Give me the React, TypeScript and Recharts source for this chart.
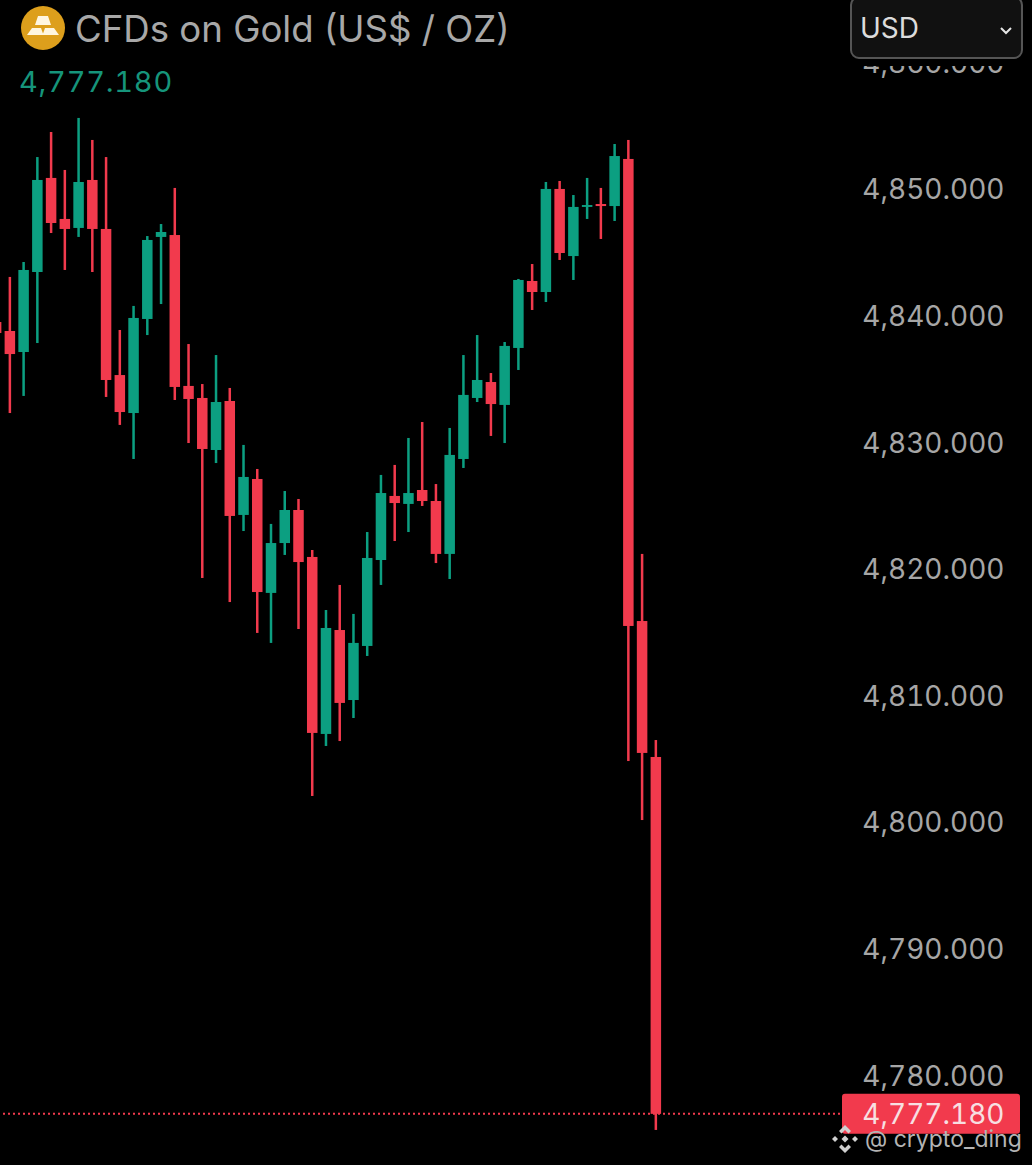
import { Bar, ComposedChart, ReferenceLine, XAxis, YAxis } from "recharts";

const FONT = "Inter, 'Noto Sans', sans-serif";
const RED = "#f23a4d";
const GREEN = "#0c9f81";
const LAST_PRICE = 4777.18;

const yTicks = [4780, 4790, 4800, 4810, 4820, 4830, 4840, 4850, 4860];

// one entry per candle, left to right
const highs = [
  4840.05, 4843.29, 4844.47, 4852.76, 4854.74, 4851.74, 4855.85, 4854.11, 4852.76, 4839.1,
  4841.0, 4846.52, 4847.47, 4850.32, 4837.99, 4834.83, 4837.12, 4834.52, 4830.02, 4828.12,
  4823.78, 4826.38, 4825.75, 4821.72, 4816.98, 4818.96, 4816.67, 4823.14, 4827.65, 4828.44,
  4830.57, 4831.83, 4826.93, 4831.36, 4837.12, 4838.7, 4835.7, 4838.15, 4843.13, 4844.31,
  4850.79, 4850.87, 4849.76, 4851.11, 4850.32, 4853.79, 4854.11, 4821.41, 4806.71,
];
const opens = [
  4839.73, 4839.02, 4837.36, 4843.68, 4851.11, 4847.87, 4847.16, 4850.95, 4847.08, 4835.54,
  4832.54, 4839.97, 4846.45, 4846.6, 4834.68, 4833.73, 4829.62, 4833.49, 4824.49, 4827.33,
  4818.33, 4822.27, 4824.88, 4821.17, 4807.19, 4815.4, 4809.87, 4814.14, 4820.93, 4825.99,
  4825.36, 4826.46, 4825.59, 4821.41, 4828.91, 4833.73, 4834.99, 4833.18, 4837.68, 4842.97,
  4842.1, 4850.24, 4844.94, 4848.82, 4849.05, 4848.89, 4852.61, 4816.11, 4805.37,
];
const closes = [
  4838.86, 4837.2, 4843.84, 4850.95, 4847.55, 4847.08, 4850.79, 4847.08, 4835.15, 4832.62,
  4840.05, 4846.21, 4846.84, 4834.6, 4833.65, 4829.7, 4833.41, 4824.41, 4827.49, 4818.4,
  4822.27, 4824.88, 4820.77, 4807.27, 4815.56, 4809.64, 4814.38, 4821.09, 4826.22, 4825.43,
  4826.22, 4825.59, 4821.41, 4829.23, 4833.97, 4835.15, 4833.25, 4837.84, 4843.05, 4842.1,
  4850.24, 4845.18, 4848.82, 4848.97, 4848.89, 4852.84, 4815.72, 4805.69, 4777.18,
];
const lows = [
  4838.47, 4832.54, 4833.89, 4838.07, 4846.76, 4843.84, 4846.45, 4843.68, 4833.81, 4831.6,
  4828.91, 4838.7, 4841.15, 4833.57, 4830.17, 4819.51, 4828.59, 4817.61, 4823.22, 4815.17,
  4814.38, 4821.33, 4815.48, 4802.29, 4806.24, 4806.63, 4808.45, 4813.35, 4818.96, 4822.43,
  4823.14, 4825.2, 4820.69, 4819.43, 4828.2, 4833.41, 4830.73, 4830.17, 4835.94, 4840.68,
  4841.31, 4844.63, 4843.05, 4847.87, 4846.29, 4847.71, 4805.05, 4800.39, 4775.91,
];

const candles = highs.map((high, i) => ({
  index: i,
  high,
  open: opens[i],
  close: closes[i],
  low: lows[i],
}));

function Candle(props: any) {
  const { x, y, width, height, payload } = props;
  const color = payload.close >= payload.open ? GREEN : RED;
  const perUnit = height / (payload.high - payload.low);
  const top = y + (payload.high - Math.max(payload.open, payload.close)) * perUnit;
  const bottom = y + (payload.high - Math.min(payload.open, payload.close)) * perUnit;
  const mid = x + width / 2;
  return (
    <g>
      <rect x={mid - 1.25} y={y} width={2.5} height={height} fill={color} />
      <rect x={x} y={top} width={width} height={Math.max(bottom - top, 1.5)} fill={color} />
    </g>
  );
}

const priceTextStyle = { fontVariantNumeric: "tabular-nums" };

function PriceTick(props: any) {
  const { y, payload } = props;
  return (
    <text
      x={1004.5}
      y={y - 2.5}
      textAnchor="end"
      dominantBaseline="central"
      fill="#a6a6a6"
      fontSize={28}
      fontFamily={FONT}
      style={priceTextStyle}
    >
      {payload.value.toLocaleString("en-US", { minimumFractionDigits: 3 })}
    </text>
  );
}

function PriceTag(props: any) {
  const { viewBox } = props;
  const right = viewBox.x + viewBox.width;
  return (
    <g>
      <rect x={right - 3} y={viewBox.y - 20} width={178} height={40} rx={3} fill={RED} />
      <text
        x={1004.5}
        y={viewBox.y}
        textAnchor="end"
        dominantBaseline="central"
        fill="#f7dfe1"
        fontSize={28}
        fontFamily={FONT}
        style={priceTextStyle}
      >
        {LAST_PRICE.toLocaleString("en-US", { minimumFractionDigits: 3 })}
      </text>
    </g>
  );
}

function GoldIcon() {
  return (
    <svg width={44} height={44} viewBox="0 0 44 44" style={{ position: "absolute", left: 21, top: 6 }}>
      <circle cx={22} cy={22} r={22} fill="#dd9f1c" />
      <path d="M17 10 H27 L30 19 H14 Z" fill="#fff6e0" />
      <path d="M11 22 H20 L22.5 29 H6 Z" fill="#fff6e0" />
      <path d="M24 22 H33 L38 29 H21.5 Z" fill="#fff6e0" />
    </svg>
  );
}

function Watermark() {
  return (
    <>
      <svg width={30} height={30} viewBox="0 0 30 30" style={{ position: "absolute", left: 830, top: 1124 }}>
        <g fill="#d0d0d0">
          <path d="M15 1 L21 7 L18.5 9.5 L15 6 L11.5 9.5 L9 7 Z" />
          <path d="M15 29 L21 23 L18.5 20.5 L15 24 L11.5 20.5 L9 23 Z" />
          <path d="M15 11.5 L18.5 15 L15 18.5 L11.5 15 Z" />
          <path d="M5 12 L8 15 L5 18 L2 15 Z" />
          <path d="M25 12 L28 15 L25 18 L22 15 Z" />
        </g>
      </svg>
      <div
        style={{
          position: "absolute",
          left: 865,
          top: 1124,
          color: "#b4b4b4",
          fontSize: 23,
          lineHeight: "30px",
          fontFamily: FONT,
          whiteSpace: "nowrap",
        }}
      >
        @ crypto_ding
      </div>
    </>
  );
}

export default function App() {
  return (
    <div
      style={{
        position: "absolute",
        left: 0,
        top: 0,
        width: 1032,
        height: 1165,
        background: "#000",
        overflow: "hidden",
        fontFamily: FONT,
      }}
    >
      <ComposedChart
        width={1032}
        height={1165}
        data={candles}
        margin={{ top: 0, right: 0, bottom: 0, left: 0 }}
      >
        <XAxis
          dataKey="index"
          type="number"
          domain={[0.31, 61.79]}
          allowDataOverflow
          hide
        />
        <YAxis
          orientation="right"
          width={187}
          domain={[4773.14, 4865.166]}
          allowDataOverflow
          ticks={yTicks}
          axisLine={false}
          tickLine={false}
          tick={<PriceTick />}
          interval={0}
        />
        <ReferenceLine
          y={LAST_PRICE}
          stroke={RED}
          strokeWidth={2}
          strokeDasharray="2 3"
          label={<PriceTag />}
        />
        <Bar
          dataKey={(d: any) => [d.low, d.high]}
          barSize={10.5}
          shape={<Candle />}
          isAnimationActive={false}
        />
      </ComposedChart>

      {/* header sits over the top axis label */}
      <div style={{ position: "absolute", left: 840, top: 0, width: 192, height: 66, background: "#000" }} />
      <GoldIcon />
      <div
        style={{
          position: "absolute",
          left: 75,
          top: 7,
          color: "#a8a8a8",
          fontSize: 36.6,
          lineHeight: "44px",
          whiteSpace: "nowrap",
        }}
      >
        CFDs on Gold (US$ / OZ)
      </div>
      <div
        style={{
          position: "absolute",
          left: 19,
          top: 64,
          color: "#16957b",
          fontSize: 29,
          lineHeight: "36px",
          letterSpacing: 0.75,
          fontVariantNumeric: "tabular-nums",
        }}
      >
        4,777.180
      </div>
      <div
        style={{
          position: "absolute",
          left: 850,
          top: -4,
          width: 169,
          height: 59,
          boxSizing: "content-box",
          background: "#111",
          border: "2px solid #555",
          borderRadius: 9,
          color: "#dcdcdc",
          fontSize: 28,
          lineHeight: "60px",
          textIndent: 8,
        }}
      >
        USD
        <svg width={14} height={10} viewBox="0 0 14 10" style={{ position: "absolute", right: 8, top: 28 }}>
          <path d="M2 2 L7 7 L12 2" fill="none" stroke="#e6e6e6" strokeWidth={2} />
        </svg>
      </div>
      <Watermark />
    </div>
  );
}
